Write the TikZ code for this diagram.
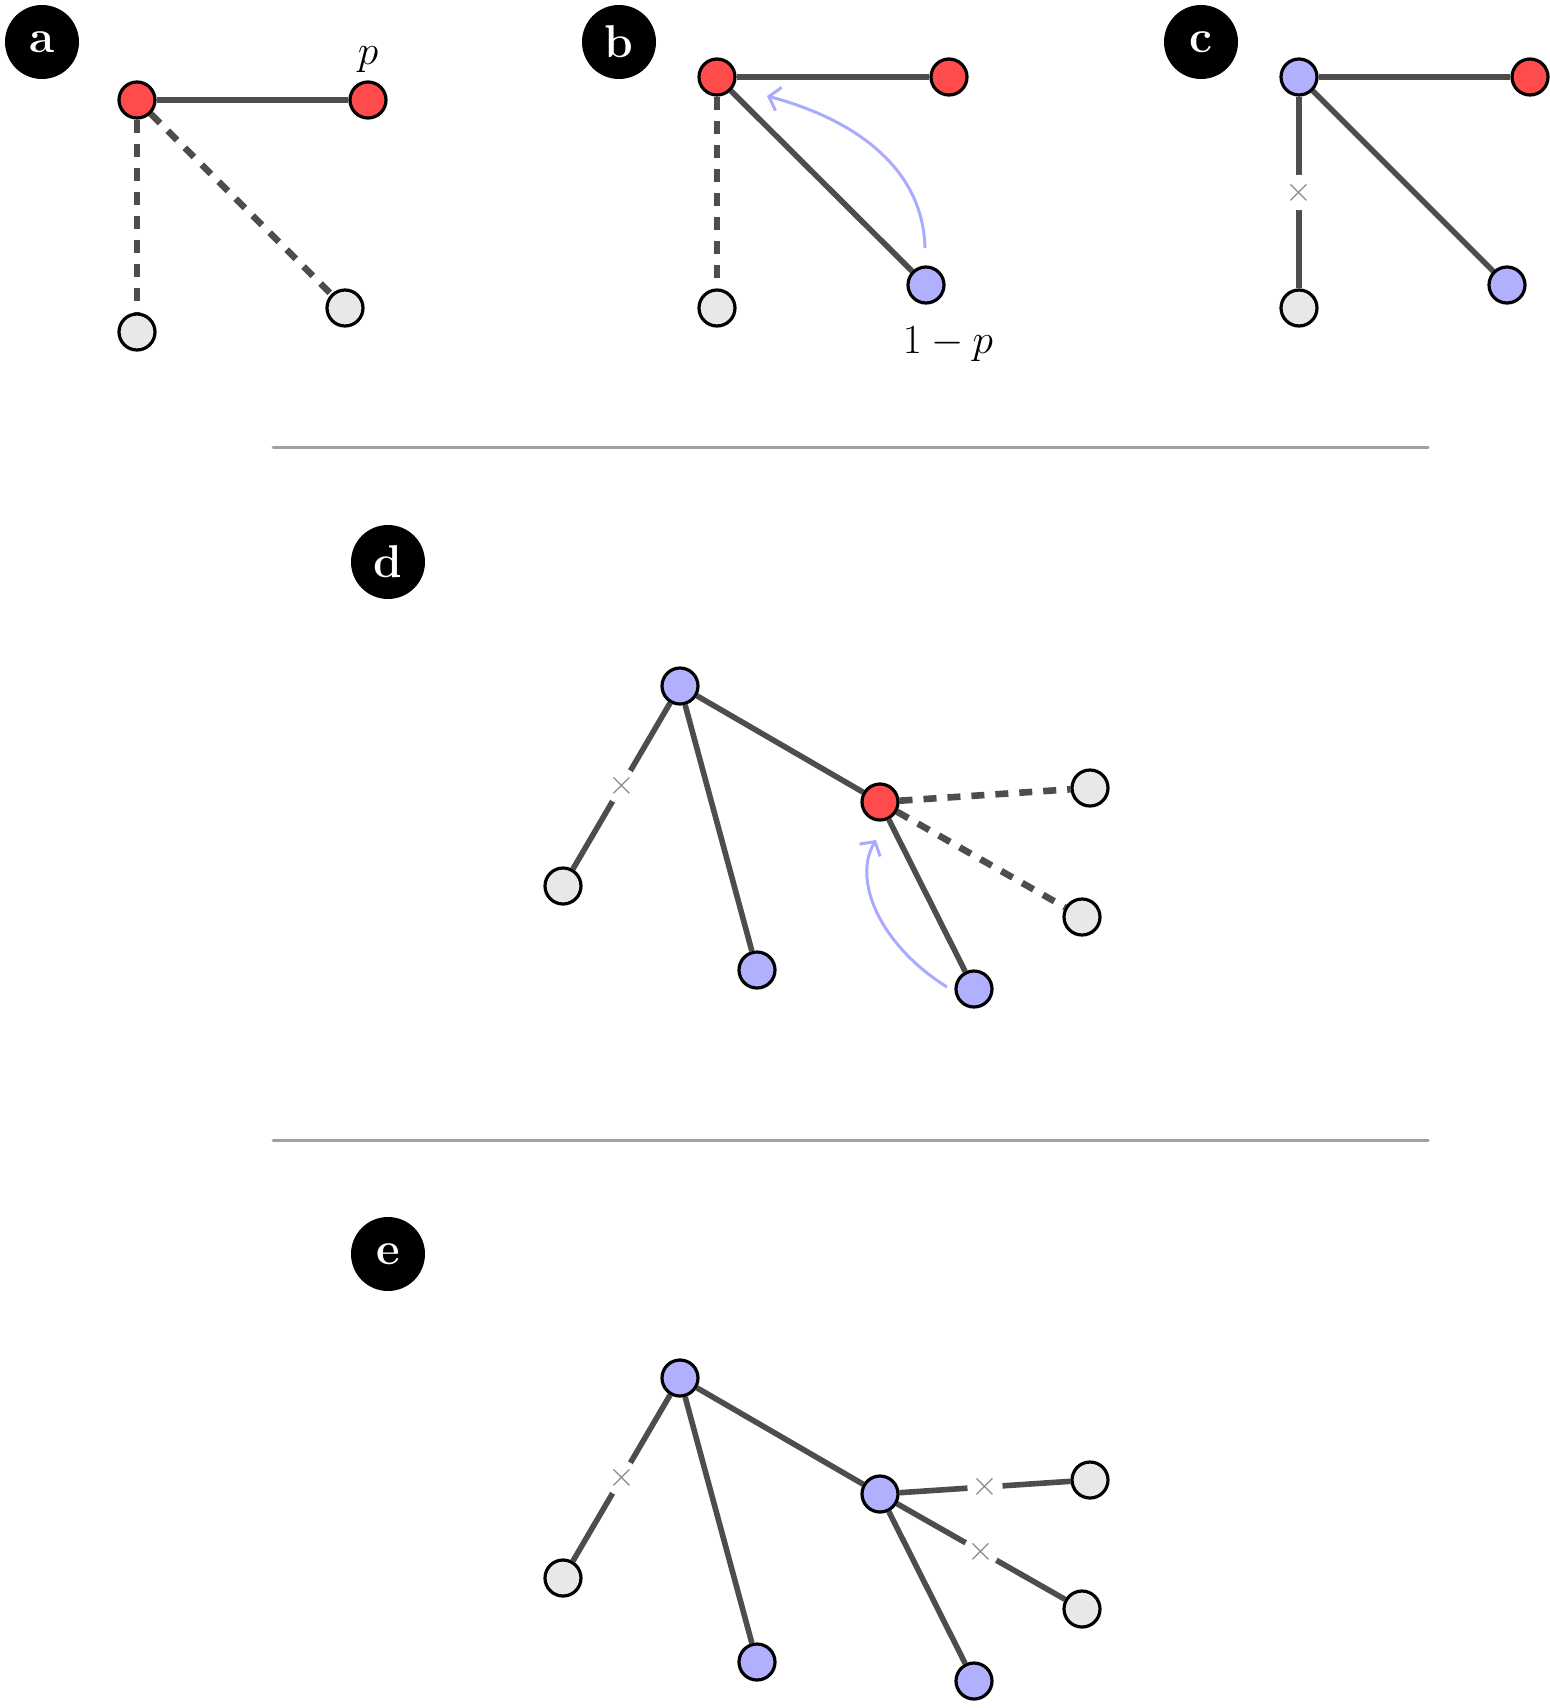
\documentclass[tikz,border=0pt]{standalone}
\usetikzlibrary{arrows.meta,backgrounds}
\definecolor{nred}{HTML}{FF4B4B}
\definecolor{nblue}{HTML}{B0B0FF}
\definecolor{ngray}{HTML}{E8E8E8}
\definecolor{edgec}{HTML}{4D4D4D}
\definecolor{sepc}{HTML}{A0A0A0}
\definecolor{xgray}{HTML}{888888}
\definecolor{arrowc}{HTML}{AAAAFF}
\begin{document}
\begin{tikzpicture}[x=0.5pt,y=-0.5pt,
 vtx/.style={circle,draw=black,line width=1.6pt,minimum size=18pt,inner sep=0pt},
 vred/.style={vtx,fill=nred},
 vblue/.style={vtx,fill=nblue},
 vgray/.style={vtx,fill=ngray},
 badge/.style={circle,fill=black,text=white,minimum size=37pt,inner sep=0pt,font=\fontsize{23}{23}\selectfont\bfseries},
 edge/.style={draw=edgec,line width=2.8pt},
 dedge/.style={edge,line width=3.3pt,dash pattern=on 6.5pt off 5.5pt},
 xmark/.style={circle,fill=white,inner sep=0pt,minimum size=15pt,text=xgray,font=\fontsize{16}{16}\selectfont},
 flow/.style={draw=arrowc,line width=1.5pt,-{Straight Barb[length=5pt,width=12pt]}},
 sepline/.style={draw=sepc,line width=1.5pt,line cap=round},
 lbl/.style={font=\fontsize{20}{24}\selectfont,anchor=base,inner sep=0pt}]
\useasboundingbox (0,0) rectangle (1550,1708);

% separators
\coordinate (s1a) at (273,447); \coordinate (s1b) at (1428,447);
\coordinate (s2a) at (273,1140); \coordinate (s2b) at (1428,1140);
\draw[sepline] (s1a) -- (s1b);
\draw[sepline] (s2a) -- (s2b);

% badges
\node[badge] (ba) at (42,42) {a};
\node[badge] (bb) at (619,42) {b};
\node[badge] (bc) at (1201,42) {c};
\node[badge] (bd) at (388,562) {d};
\node[badge] (be) at (388,1254) {e};

% panel a
\node[vred] (a1) at (137,100) {};
\node[vred] (a2) at (368,100) {};
\node[vgray] (a3) at (137,332) {};
\node[vgray] (a4) at (345,308) {};
\node[lbl] (ap) at (368,64) {$p$};

% panel b
\node[vred] (b1) at (717,77) {};
\node[vred] (b2) at (949,77) {};
\node[vgray] (b3) at (717,308) {};
\node[vblue] (b4) at (926,285) {};
\node[lbl] (bp) at (948,353) {$1-p$};

% panel c
\node[vblue] (c1) at (1299,77) {};
\node[vred] (c2) at (1530,77) {};
\node[vgray] (c3) at (1299,308) {};
\node[vblue] (c4) at (1507,285) {};

% panel d
\node[vblue] (d1) at (680,686) {};
\node[vred] (d2) at (880,802) {};
\node[vgray] (d3) at (563,886) {};
\node[vblue] (d4) at (757,970) {};
\node[vblue] (d5) at (974,989) {};
\node[vgray] (d6) at (1090,788) {};
\node[vgray] (d7) at (1082,917) {};

% panel e
\node[vblue] (e1) at (680,1378) {};
\node[vblue] (e2) at (880,1494) {};
\node[vgray] (e3) at (563,1578) {};
\node[vblue] (e4) at (757,1662) {};
\node[vblue] (e5) at (974,1681) {};
\node[vgray] (e6) at (1090,1480) {};
\node[vgray] (e7) at (1082,1609) {};

\begin{scope}[on background layer]
% a
\draw[edge] (a1) -- (a2);
\draw[dedge] (a1) -- (a3);
\draw[dedge] (a1) -- (a4);
% b
\draw[edge] (b1) -- (b2);
\draw[dedge] (b1) -- (b3);
\draw[edge] (b1) -- (b4);
% c
\draw[edge] (c1) -- (c2);
\draw[edge] (c1) -- node[xmark] {$\times$} (c3);
\draw[edge] (c1) -- (c4);
% d
\draw[edge] (d1) -- node[xmark] {$\times$} (d3);
\draw[edge] (d1) -- (d4);
\draw[edge] (d1) -- (d2);
\draw[edge] (d2) -- (d5);
\draw[dedge] (d2) -- (d6);
\draw[dedge] (d2) -- (d7);
% e
\draw[edge] (e1) -- node[xmark] {$\times$} (e3);
\draw[edge] (e1) -- (e4);
\draw[edge] (e1) -- (e2);
\draw[edge] (e2) -- (e5);
\draw[edge] (e2) -- node[xmark] {$\times$} (e6);
\draw[edge] (e2) -- node[xmark] {$\times$} (e7);
\end{scope}

% arrows
\coordinate (bArrS) at (925,248);
\coordinate (bArrE) at (767,96);
\draw[flow] (bArrS) .. controls (923,165) and (850,118) .. (bArrE);
\coordinate (dArrS) at (947,987);
\coordinate (dArrE) at (876,840);
\draw[flow] (dArrS) .. controls (880,945) and (852,880) .. (dArrE);
\end{tikzpicture}
\end{document}
